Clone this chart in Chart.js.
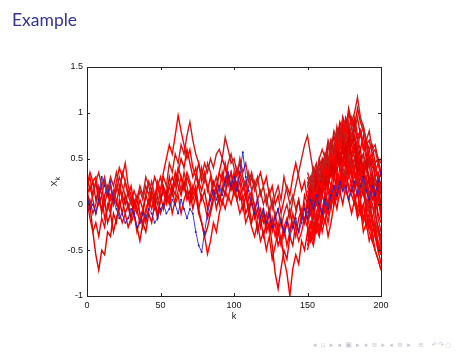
<!DOCTYPE html>
<html>
<head>
<meta charset="utf-8">
<script src="https://cdn.jsdelivr.net/npm/chart.js@4/dist/chart.umd.min.js"></script>
<style>
html,body{margin:0;padding:0;background:#fff;width:474px;height:355px;overflow:hidden;}
#wrap{position:absolute;left:0;top:0;width:474px;height:355px;}
#title{position:absolute;left:12px;top:9px;font-family:"Lato","Open Sans",sans-serif;font-size:17.5px;color:#35358f;}
#nav{position:absolute;left:313px;top:341px;font-family:"DejaVu Sans",sans-serif;font-size:7px;color:#c4c4d4;letter-spacing:1px;white-space:nowrap;}
</style>
</head>
<body>
<div id="wrap"><canvas id="c" width="474" height="355"></canvas></div>
<div id="title">Example</div>
<div id="nav">◂ ▫ ▸ ◂ ▣ ▸ ◂ ≡ ▸ ◂ ≡ ▸ &nbsp;≡ &nbsp;↶↷○</div>
<script>
// time steps (every 2nd k)
const kValues = [0,2,4,6,8,10,12,14,16,18,20,22,24,26,28,30,32,34,36,38,
40,42,44,46,48,50,52,54,56,58,60,62,64,66,68,70,72,74,76,78,
80,82,84,86,88,90,92,94,96,98,100,102,104,106,108,110,112,114,116,118,
120,122,124,126,128,130,132,134,136,138,140,142,144,146,148,150,152,154,156,158,
160,162,164,166,168,170,172,174,176,178,180,182,184,186,188,190,192,194,196,198,200];
const xTicks = [0,50,100,150,200];
const yTicks = [-1,-0.5,0,0.5,1,1.5];

// true state (blue)
const trueState = [0.1,-0.05,0.0,-0.1,0.05,0.3,0.2,0.1,0.25,0.05,
-0.05,-0.15,-0.1,-0.2,-0.15,-0.05,-0.1,-0.25,-0.2,-0.1,
-0.15,-0.05,-0.1,-0.2,-0.15,-0.05,0.0,-0.1,-0.05,0.05,
0.0,-0.1,0.05,-0.05,-0.15,-0.05,-0.1,-0.3,-0.45,-0.52,
-0.3,-0.1,0.05,0.15,0.05,0.2,0.1,0.25,0.35,0.2,
0.3,0.15,0.35,0.57,0.3,0.15,0.0,-0.1,0.05,-0.15,
-0.05,-0.2,-0.1,-0.25,-0.15,-0.05,-0.2,-0.3,-0.2,-0.35,
-0.25,-0.15,-0.3,-0.2,-0.05,-0.15,0.05,-0.05,0.1,0.0,
-0.1,0.05,-0.05,0.1,0.2,0.1,0.25,0.15,0.2,0.05,
0.15,0.25,0.1,0.2,0.3,0.15,0.05,0.2,0.1,0.25,
0.35];

// full particle trajectories (red)
const path1 = [0.15,0.0,-0.3,-0.55,-0.72,-0.5,-0.55,-0.3,-0.35,-0.1,
-0.2,0.05,-0.1,0.1,0.0,-0.15,0.05,-0.05,-0.2,-0.1,
0.1,0.0,0.15,0.05,-0.1,0.05,0.2,0.1,0.3,0.15,
0.35,0.2,0.1,0.25,0.05,0.15,-0.05,0.1,-0.1,-0.2,
-0.35,-0.25,-0.1,0.05,0.15,0.0,0.2,0.1,0.3,0.15,
0.25,0.05,0.15,-0.05,0.1,-0.1,0.05,-0.15,-0.05,-0.25,
-0.1,-0.3,-0.2,-0.45,-0.75,-0.92,-0.7,-0.5,-0.6,-0.35,
-0.45,-0.2,-0.3,-0.1,-0.2,0.0,-0.1,0.1,0.0,0.2,
0.1,0.3,0.2,0.45,0.35,0.55,0.4,0.6,0.45,0.7,
0.5,0.6,0.35,0.5,0.3,0.45,0.2,0.35,0.1,0.25,
0.0];
const path2 = [0.2,0.35,0.25,0.3,0.1,0.2,0.0,0.15,-0.05,0.1,
0.25,0.4,0.3,0.45,0.2,0.1,-0.05,0.05,-0.1,-0.2,
-0.05,0.05,0.15,0.05,0.25,0.15,0.35,0.5,0.65,0.55,
0.75,0.97,0.8,0.65,0.5,0.6,0.4,0.3,0.45,0.25,
0.35,0.15,0.3,0.1,0.2,0.35,0.25,0.45,0.3,0.2,
0.35,0.15,0.25,0.05,0.15,-0.05,0.1,0.0,-0.15,-0.05,
-0.2,-0.1,-0.3,-0.15,-0.35,-0.2,-0.4,-0.25,-0.45,-0.3,
-0.2,-0.35,-0.15,-0.05,-0.2,0.05,-0.1,0.15,0.05,0.25,
0.15,0.4,0.3,0.55,0.45,0.7,0.6,0.9,0.75,1.0,
0.85,0.95,0.75,0.8,0.6,0.7,0.5,0.55,0.35,0.45,
0.3];
const path3 = [0.1,-0.05,0.1,0.25,0.35,0.2,0.3,0.1,0.2,0.0,
0.15,0.3,0.2,0.1,-0.05,0.05,-0.1,0.0,0.15,0.05,
0.2,0.1,0.25,0.1,0.0,0.15,0.3,0.2,0.45,0.35,
0.55,0.45,0.65,0.55,0.75,0.9,0.7,0.55,0.45,0.3,
0.45,0.35,0.5,0.4,0.55,0.6,0.5,0.73,0.6,0.45,
0.5,0.35,0.45,0.3,0.2,0.35,0.15,0.25,0.05,0.15,
0.0,0.1,-0.1,0.05,-0.15,-0.05,-0.25,-0.1,0.0,-0.15,
0.05,0.2,0.35,0.5,0.65,0.75,0.55,0.35,0.45,0.25,
0.4,0.55,0.45,0.7,0.6,0.85,0.7,0.95,0.8,1.05,
0.9,1.0,1.17,0.95,0.85,0.7,0.8,0.6,0.65,0.5,
0.45];
const path4 = [0.05,-0.15,-0.3,-0.2,-0.35,-0.15,-0.25,0.0,-0.1,0.1,
0.0,0.2,0.05,-0.1,0.0,-0.2,-0.1,-0.3,-0.15,-0.05,
-0.2,-0.05,0.1,0.0,0.2,0.3,0.15,0.05,0.2,0.1,
0.25,0.4,0.3,0.15,0.3,0.2,0.05,0.15,-0.05,0.1,
0.0,-0.15,-0.05,0.1,0.2,0.05,0.15,0.3,0.2,0.35,
0.2,0.4,0.3,0.15,0.25,0.05,0.15,-0.05,0.05,-0.15,
-0.05,-0.25,-0.1,-0.3,-0.2,-0.45,-0.35,-0.6,-0.75,-1.0,
-0.7,-0.55,-0.65,-0.4,-0.5,-0.3,-0.4,-0.2,-0.3,-0.1,
-0.2,0.0,-0.1,0.15,0.05,0.3,0.2,0.5,0.4,0.65,
0.5,0.4,0.55,0.3,0.45,0.2,0.1,0.25,-0.05,0.1,
-0.15];
const path5 = [0.3,0.15,0.25,0.05,0.15,-0.1,0.05,-0.2,-0.1,-0.3,
-0.15,-0.05,0.1,0.0,0.15,0.05,-0.1,-0.25,-0.4,-0.2,
-0.3,-0.1,-0.2,0.0,-0.15,0.05,0.15,0.05,0.2,0.3,
0.2,0.35,0.5,0.4,0.6,0.45,0.3,0.4,0.2,0.05,
0.15,-0.05,0.1,0.25,0.15,0.35,0.5,0.4,0.25,0.35,
0.15,0.25,0.05,0.1,-0.1,0.0,-0.2,-0.05,-0.3,-0.15,
-0.35,-0.2,-0.05,-0.25,-0.1,-0.3,-0.15,-0.35,-0.2,-0.05,
-0.25,-0.1,0.05,-0.15,0.1,0.0,0.2,0.05,0.3,0.15,
0.35,0.25,0.5,0.4,0.3,0.55,0.45,0.7,0.55,0.8,
0.65,0.75,0.5,0.6,0.35,0.5,0.25,0.3,0.05,0.2,
-0.1];
const path6 = [0.2,0.3,0.1,0.25,0.0,0.1,-0.15,-0.05,0.1,0.0,
0.2,0.1,0.35,0.25,0.1,0.2,0.0,0.1,-0.1,-0.25,
-0.1,0.05,-0.05,0.1,0.2,0.05,0.15,0.0,0.1,-0.1,
0.05,0.15,0.3,0.2,0.35,0.25,0.1,0.2,-0.05,-0.2,
-0.35,-0.54,-0.4,-0.2,-0.3,-0.1,0.05,-0.05,0.1,0.0,
0.15,0.05,-0.1,0.0,-0.2,-0.1,-0.25,-0.35,-0.2,-0.4,
-0.3,-0.5,-0.35,-0.6,-0.45,-0.3,-0.45,-0.25,-0.15,-0.3,
-0.1,-0.25,-0.4,-0.3,-0.15,-0.25,-0.05,-0.15,0.05,-0.1,
0.1,0.0,0.2,0.1,0.3,0.2,0.4,0.3,0.15,0.35,
0.2,0.05,0.15,-0.1,0.0,-0.25,-0.15,-0.4,-0.5,-0.6,
-0.72];
const path7 = [-0.05,0.05,-0.1,0.0,0.2,0.1,0.25,0.15,0.3,0.2,
0.35,0.2,0.1,0.25,0.1,0.0,0.15,0.05,0.2,0.1,
0.3,0.2,0.05,-0.05,0.1,-0.1,0.0,0.15,0.05,0.2,
0.1,0.3,0.15,0.35,0.2,0.05,0.15,0.3,0.2,0.4,
0.25,0.45,0.35,0.2,0.3,0.15,0.35,0.2,0.45,0.55,
0.4,0.3,0.5,0.35,0.45,0.25,0.35,0.2,0.3,0.1,
0.2,0.0,0.15,-0.05,0.1,0.2,0.05,0.3,0.15,0.0,
0.1,-0.05,0.05,-0.15,0.0,-0.2,-0.05,-0.25,-0.1,0.05,
-0.1,0.05,-0.05,0.15,0.05,0.25,0.15,0.4,0.3,0.55,
0.4,0.5,0.3,0.15,0.25,0.05,-0.1,0.0,-0.2,-0.3,
-0.45];
const path8 = [0.1,0.2,0.05,-0.1,0.05,-0.05,0.1,0.2,0.05,0.15,
0.05,-0.1,-0.2,-0.1,-0.25,-0.15,0.0,-0.1,0.05,-0.05,
0.1,0.25,0.15,0.3,0.2,0.1,-0.05,0.1,0.0,0.15,
0.0,0.1,-0.1,0.05,0.15,0.0,0.2,0.1,0.25,0.15,
0.3,0.2,0.05,0.15,-0.05,0.1,0.0,0.15,0.05,0.25,
0.1,0.2,0.35,0.25,0.1,0.2,0.3,0.15,0.25,0.35,
0.2,0.3,0.1,0.2,0.0,0.1,-0.1,0.05,0.2,0.1,
0.3,0.45,0.3,0.15,0.25,0.05,-0.1,0.0,-0.2,-0.1,
-0.3,-0.15,-0.35,-0.2,0.0,0.1,0.2,0.35,0.25,0.5,
0.35,0.2,0.3,0.1,0.2,-0.05,0.05,-0.2,-0.3,-0.45,
-0.55];

// late branches (k = 150 ... 200)
const branch1 = [-0.3,-0.2,-0.35,-0.15,-0.25,-0.05,0.1,0.0,0.2,0.1,0.35,0.25,0.5,0.4,0.65,0.55,0.75,0.6,0.8,0.65,0.5,0.6,0.4,0.45,0.25,0.35];
const branch2 = [0.1,0.0,0.2,0.05,0.3,0.2,0.45,0.35,0.6,0.5,0.75,0.65,0.85,0.7,0.9,0.75,0.6,0.7,0.5,0.55,0.35,0.45,0.2,0.3,0.1,0.15];
const branch3 = [-0.45,-0.3,-0.4,-0.2,-0.3,-0.1,-0.2,0.05,-0.05,0.15,0.05,0.3,0.2,0.45,0.3,0.5,0.35,0.2,0.3,0.1,0.2,0.0,-0.15,-0.05,-0.3,-0.4];
const branch4 = [0.0,0.15,0.05,0.25,0.1,0.35,0.25,0.5,0.4,0.6,0.45,0.7,0.8,0.65,0.75,0.55,0.65,0.45,0.3,0.4,0.2,0.3,0.05,0.15,-0.1,-0.2];
const branch5 = [-0.2,-0.05,-0.15,0.05,-0.05,0.2,0.1,0.3,0.2,0.4,0.55,0.45,0.6,0.5,0.35,0.45,0.3,0.4,0.15,0.25,0.0,0.1,-0.15,-0.25,-0.4,-0.5];
const branch6 = [0.2,0.3,0.15,0.35,0.25,0.45,0.35,0.6,0.7,0.55,0.8,0.7,0.95,0.85,1.0,0.9,0.8,0.95,0.75,0.85,0.65,0.7,0.55,0.6,0.45,0.5];
const branch7 = [-0.35,-0.2,-0.3,-0.1,0.0,-0.15,0.05,0.15,0.0,0.2,0.1,0.25,0.15,0.35,0.2,0.1,0.0,0.15,-0.1,0.0,-0.2,-0.1,-0.3,-0.2,-0.45,-0.55];
const branch8 = [0.05,-0.1,0.1,0.0,0.15,0.3,0.2,0.4,0.3,0.5,0.35,0.55,0.45,0.65,0.5,0.7,0.85,0.7,0.6,0.75,0.55,0.4,0.5,0.3,0.35,0.2];
const branch9 = [-0.1,0.05,-0.05,0.1,0.2,0.1,0.3,0.2,0.35,0.25,0.45,0.55,0.4,0.5,0.3,0.4,0.2,0.35,0.5,0.35,0.45,0.25,0.3,0.1,0.0,-0.05];
const branch10 = [0.25,0.15,0.3,0.2,0.4,0.3,0.5,0.4,0.55,0.65,0.5,0.6,0.75,0.6,0.7,0.85,0.7,0.6,0.45,0.55,0.4,0.5,0.35,0.2,0.3,0.1];
const branch11 = [-0.25,-0.4,-0.3,-0.15,-0.3,-0.2,0.0,-0.1,0.1,0.0,0.2,0.1,0.3,0.15,0.05,0.2,0.1,-0.05,0.05,-0.15,-0.05,-0.25,-0.15,-0.35,-0.5,-0.65];
const branch12 = [0.15,0.05,0.25,0.4,0.3,0.5,0.4,0.65,0.55,0.75,0.6,0.8,0.7,0.9,0.8,0.95,0.85,1.05,0.9,0.8,0.7,0.6,0.65,0.45,0.5,0.35];
const branch13 = [-0.05,0.1,0.0,0.2,0.05,0.25,0.4,0.3,0.45,0.35,0.6,0.5,0.7,0.55,0.4,0.5,0.35,0.25,0.4,0.2,0.3,0.1,0.2,0.0,0.1,-0.05];
const branch14 = [0.3,0.2,0.35,0.25,0.5,0.4,0.55,0.45,0.35,0.5,0.65,0.55,0.45,0.6,0.45,0.3,0.4,0.5,0.3,0.4,0.2,0.25,0.05,0.1,-0.15,-0.3];
const branch15 = [-0.5,-0.35,-0.45,-0.25,-0.35,-0.15,-0.05,-0.2,0.0,0.1,-0.05,0.15,0.0,0.2,0.05,-0.1,0.05,-0.15,-0.05,-0.3,-0.2,-0.4,-0.3,-0.5,-0.6,-0.7];
const branch16 = [0.05,0.2,0.1,0.3,0.45,0.35,0.55,0.45,0.65,0.55,0.7,0.9,0.8,0.7,0.85,0.65,0.5,0.6,0.4,0.2,0.3,0.1,0.0,-0.1,-0.25,-0.35];
const branch17 = [-0.15,0.0,-0.1,0.1,0.0,0.15,0.3,0.2,0.4,0.3,0.5,0.4,0.25,0.35,0.15,0.25,0.05,-0.1,0.0,-0.2,-0.1,-0.3,-0.4,-0.3,-0.5,-0.45];
const branch18 = [0.35,0.25,0.4,0.3,0.5,0.6,0.5,0.7,0.6,0.8,0.7,0.85,0.75,0.95,0.85,0.75,0.9,0.7,0.8,0.6,0.65,0.45,0.5,0.3,0.35,0.15];
const branch19 = [-0.4,-0.25,-0.1,-0.2,0.0,-0.1,0.1,0.0,0.2,0.1,0.3,0.2,0.35,0.25,0.45,0.3,0.15,0.25,0.05,0.15,-0.1,0.0,-0.2,-0.35,-0.25,-0.4];
const branch20 = [0.2,0.1,0.0,0.15,0.05,0.25,0.15,0.35,0.5,0.4,0.55,0.45,0.65,0.5,0.6,0.4,0.5,0.3,0.2,0.35,0.15,0.05,0.2,-0.05,0.1,-0.1];

const fullPaths = [path1,path2,path3,path4,path5,path6,path7,path8];
const branches = [branch1,branch2,branch3,branch4,branch5,branch6,branch7,branch8,branch9,branch10,
  branch11,branch12,branch13,branch14,branch15,branch16,branch17,branch18,branch19,branch20];
const branchK = kValues.slice(kValues.indexOf(150));

const pairs = (ks, vs) => vs.map((v,i)=>({x:ks[i], y:v}));
const redShades = ['rgb(225,0,0)','rgb(255,0,0)','rgb(195,30,30)','rgb(245,0,0)'];
const datasets = [];
fullPaths.forEach((p,i)=>datasets.push({data:pairs(kValues,p),borderColor:redShades[i%4],borderWidth:1.4,pointRadius:0,order:2}));
branches.forEach((p,i)=>datasets.push({data:pairs(branchK,p),borderColor:redShades[(i+1)%4],borderWidth:1.4,pointRadius:0,order:2}));
datasets.push({data:pairs(kValues,trueState),borderColor:'rgb(40,40,200)',backgroundColor:'rgb(30,30,170)',borderWidth:0.9,pointRadius:1,pointBorderWidth:0,order:1});

const frame = {
  id:'frame',
  afterDraw(chart){
    const {ctx, chartArea:a, scales:{x,y}} = chart;
    ctx.save();
    ctx.strokeStyle='#222'; ctx.lineWidth=1;
    ctx.strokeRect(Math.round(a.left)+0.5, Math.round(a.top)+0.5, Math.round(a.right-a.left), Math.round(a.bottom-a.top));
    ctx.beginPath();
    xTicks.forEach(t=>{const px=Math.round(x.getPixelForValue(t))+0.5;
      ctx.moveTo(px,a.bottom); ctx.lineTo(px,a.bottom-3);
      ctx.moveTo(px,a.top); ctx.lineTo(px,a.top+3);});
    yTicks.forEach(t=>{const py=Math.round(y.getPixelForValue(t))+0.5;
      ctx.moveTo(a.left,py); ctx.lineTo(a.left+3,py);
      ctx.moveTo(a.right,py); ctx.lineTo(a.right-3,py);});
    ctx.stroke();
    ctx.fillStyle='#111';
    ctx.font='9px "Liberation Sans", Arial, sans-serif';
    ctx.textAlign='center'; ctx.textBaseline='top';
    ctx.fillText('k', (a.left+a.right)/2, a.bottom+16);
    ctx.translate(a.left-30, (a.top+a.bottom)/2);
    ctx.rotate(-Math.PI/2);
    ctx.textAlign='left'; ctx.textBaseline='alphabetic';
    ctx.fillText('X', -5, 0);
    ctx.font='7px "Liberation Sans", Arial, sans-serif';
    ctx.fillText('k', 1, 3);
    ctx.restore();
  }
};

new Chart(document.getElementById('c'), {
  type:'line',
  data:{datasets},
  options:{
    responsive:false, animation:false, devicePixelRatio:1,
    layout:{padding:{left:57,top:67,right:93,bottom:29}},
    plugins:{legend:{display:false},tooltip:{enabled:false},title:{display:false}},
    elements:{line:{tension:0}},
    scales:{
      x:{type:'linear',min:0,max:200,
        afterBuildTicks(s){s.ticks=xTicks.map(v=>({value:v}));},
        afterFit(s){s.height=30;},
        grid:{display:false,drawTicks:false},border:{display:false},
        ticks:{color:'#111',font:{family:'"Liberation Sans", Arial, sans-serif',size:9},padding:4,maxRotation:0}},
      y:{type:'linear',min:-1,max:1.5,
        afterBuildTicks(s){s.ticks=yTicks.map(v=>({value:v}));},
        afterFit(s){s.width=30;},
        grid:{display:false,drawTicks:false},border:{display:false},
        ticks:{color:'#111',font:{family:'"Liberation Sans", Arial, sans-serif',size:9},padding:4,callback:v=>String(v)}}
    }
  },
  plugins:[frame]
});
</script>
</body>
</html>
